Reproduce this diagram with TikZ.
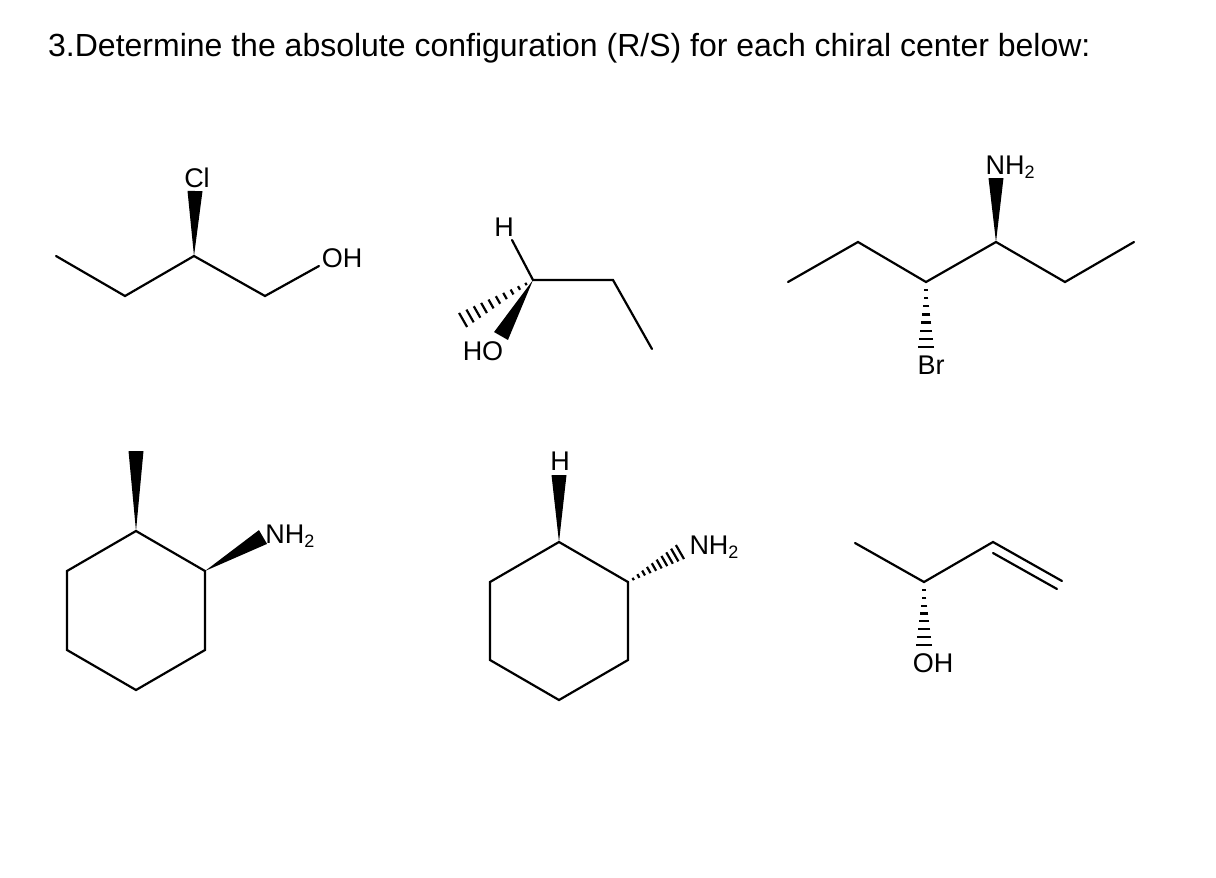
\documentclass[tikz,border=0pt]{standalone}
\usepackage{fontspec}
\setmainfont{Liberation Sans}
\usetikzlibrary{calc}
\newcommand{\subtwo}{\raisebox{-4.5pt}{\fontsize{18}{18}\selectfont 2}}
% wedge from narrow end #1 to broad end #2, half width #3
\newcommand{\wedgebond}[3]{\fill[black] (#1) -- ($(#2)!#3!90:(#1)$) -- ($(#2)!#3!-90:(#1)$) -- cycle;}
% hashed bond from narrow end #1 to broad end #2, half width #3, stripes #4
\newcommand{\hashbond}[4]{\foreach \k in {1,...,#4}{
  \pgfmathsetmacro{\tt}{\k/#4}
  \pgfmathsetmacro{\hw}{#3*\k/#4+0.6}
  \draw[hashline] ($(#1)!\tt*0.999!(#2)!\hw pt!90:(#2)$) -- ($(#1)!\tt*0.999!(#2)!\hw pt!-90:(#2)$);
}}
\tikzset{
  bond/.style={line width=2.2pt,line cap=round,line join=miter},
  hashline/.style={line width=2.2pt},
  atomlabel/.style={font=\fontsize{27}{27}\selectfont,inner sep=0pt,text=black},
  titletext/.style={font=\fontsize{32}{32}\selectfont,inner sep=0pt,anchor=west,text=black}
}
\begin{document}
\begin{tikzpicture}[x=1pt,y=-1pt]
\useasboundingbox (0,0) rectangle (1216,878);
\fill[white] (0,0) rectangle (1216,878);
\node[titletext] (title) at (48,48) {3.Determine the absolute configuration (R/S) for each chiral center below:};

% molecule 1
\coordinate (a1) at (56,256); \coordinate (a2) at (125,296); \coordinate (a3) at (194,256); \coordinate (a4) at (265,296);
\coordinate (a5) at (195,191); \coordinate (a6) at (319,266);
\node[atomlabel] (acl) at (197,178) {Cl};
\node[atomlabel] (aoh) at (342,258) {OH};
\draw[bond] (a1) -- (a2) -- (a3) -- (a4) -- (a6);
\wedgebond{a3}{a5}{7.5pt}

% molecule 2
\coordinate (b1) at (533,280); \coordinate (b2) at (613,280); \coordinate (b3) at (652,349);
\coordinate (b4) at (501,336); \coordinate (b5) at (463,320); \coordinate (b6) at (512,240);
\node[atomlabel] (bh) at (504,227) {H};
\node[atomlabel] (bho) at (483,351) {HO};
\draw[bond] (b6) -- (b1) -- (b2) -- (b3);
\wedgebond{b1}{b4}{8pt}
\hashbond{b1}{b5}{7.5}{10}

% molecule 3
\coordinate (c1) at (788,282); \coordinate (c2) at (858,242); \coordinate (c3) at (926,282); \coordinate (c4) at (996,242);
\coordinate (c5) at (1065,282); \coordinate (c6) at (1134,242);
\coordinate (c7) at (996,178); \coordinate (c8) at (926,347);
\node[atomlabel] (cnh) at (1010,167) {NH\subtwo};
\node[atomlabel] (cbr) at (931,365) {Br};
\draw[bond] (c1) -- (c2) -- (c3) -- (c4) -- (c5) -- (c6);
\wedgebond{c4}{c7}{7.5pt}
\hashbond{c3}{c8}{7.5}{8}

% molecule 4
\coordinate (d1) at (136,531); \coordinate (d2) at (205,571); \coordinate (d3) at (205,650);
\coordinate (d4) at (136,690); \coordinate (d5) at (67,650); \coordinate (d6) at (67,571);
\coordinate (d7) at (136,451); \coordinate (d8) at (263,537);
\node[atomlabel] (dnh) at (290,536) {NH\subtwo};
\draw[bond] (d1) -- (d2) -- (d3) -- (d4) -- (d5) -- (d6) -- cycle;
\wedgebond{d1}{d7}{7.5pt}
\wedgebond{d2}{d8}{8pt}

% molecule 5
\coordinate (e1) at (559,542); \coordinate (e2) at (628,582); \coordinate (e3) at (628,660);
\coordinate (e4) at (559,700); \coordinate (e5) at (490,660); \coordinate (e6) at (490,582);
\coordinate (e7) at (559,475); \coordinate (e8) at (680,552);
\node[atomlabel] (eh) at (560,461) {H};
\node[atomlabel] (enh) at (714,547) {NH\subtwo};
\draw[bond] (e1) -- (e2) -- (e3) -- (e4) -- (e5) -- (e6) -- cycle;
\wedgebond{e1}{e7}{7.5pt}
\hashbond{e2}{e8}{7.5}{10}

% molecule 6
\coordinate (f1) at (855,543); \coordinate (f2) at (924,582); \coordinate (f3) at (993,542); \coordinate (f4) at (1062,581);
\coordinate (f5) at (993,553); \coordinate (f6) at (1057,589); \coordinate (f7) at (924,645);
\node[atomlabel] (foh) at (933,663) {OH};
\draw[bond] (f1) -- (f2) -- (f3) -- (f4);
\draw[bond] (f5) -- (f6);
\hashbond{f2}{f7}{7.5}{8}
\end{tikzpicture}
\end{document}
